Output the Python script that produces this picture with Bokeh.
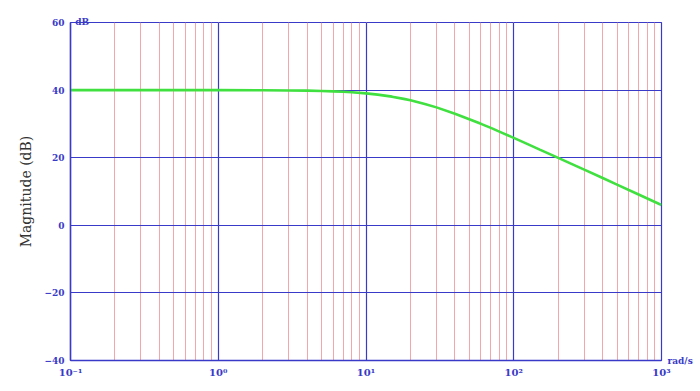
from bokeh.plotting import figure
from bokeh.models import Range1d, FixedTicker, LogTicker, LinearAxis, LogAxis
from bokeh.embed import file_html
from bokeh.resources import INLINE

# Data (rad/s, dB)
freq = [0.1, 0.2, 0.5, 1, 2, 3, 4, 5, 6, 7, 8, 10, 12, 15, 18, 20, 25, 30, 40, 50, 60, 70, 85,
        100, 120, 150, 200, 250, 300, 400, 500, 700, 1000]
mag_db = [40.0, 40.0, 40.0, 40.0, 39.96, 39.9, 39.83, 39.74, 39.63, 39.51, 39.37, 39.03, 38.66,
          38.06, 37.41, 36.99, 35.92, 34.89, 33.01, 31.40, 30.02, 28.81, 27.20, 25.85, 24.32,
          22.40, 19.96, 18.04, 16.46, 13.98, 12.04, 9.12, 6.02]

y_ticks = [-40, -20, 0, 20, 40, 60]
y_tick_labels = ["\u221240", "\u221220", "0", "20", "40", "60"]
x_ticks = [0.1, 1, 10, 100, 1000]
x_tick_labels = ["10\u207b\u00b9", "10\u2070", "10\u00b9", "10\u00b2", "10\u00b3"]
y_unit = "dB"
x_unit = "rad/s"

BLUE = "#3a3ac8"
PINK = "#f2a8a8"
GREEN = "#3fe03f"
SERIF = "DejaVu Serif"

p = figure(width=700, height=391, x_axis_type="log", output_backend="svg",
           toolbar_location=None, x_range=Range1d(0.1, 1000), y_range=Range1d(-40, 60),
           min_border_left=70, min_border_right=39, min_border_top=22, min_border_bottom=31)

p.outline_line_color = BLUE
p.outline_line_width = 1.2
p.background_fill_color = "white"
p.border_fill_color = "white"

p.xaxis.ticker = LogTicker(desired_num_ticks=5, num_minor_ticks=10)
p.xaxis.major_label_overrides = {t: l for t, l in zip(x_ticks, x_tick_labels)}
p.yaxis.ticker = FixedTicker(ticks=y_ticks)
p.yaxis.major_label_overrides = {t: l for t, l in zip(y_ticks, y_tick_labels)}

for ax in (p.xaxis, p.yaxis):
    ax.axis_line_color = BLUE
    ax.axis_line_width = 1.5
    ax.major_tick_line_color = None
    ax.minor_tick_line_color = None
    ax.major_tick_out = 0
    ax.major_tick_in = 0
    ax.minor_tick_out = 0
    ax.minor_tick_in = 0
    ax.major_label_text_color = BLUE
    ax.major_label_text_font = SERIF
    ax.major_label_text_font_style = "bold"
    ax.major_label_text_font_size = "9px"

p.xaxis.major_label_text_font_size = "10px"
p.xaxis.major_label_standoff = 6
p.yaxis.major_label_standoff = 6

p.yaxis.axis_label = "Magnitude (dB)"
p.yaxis.axis_label_text_font = SERIF
p.yaxis.axis_label_text_font_style = "normal"
p.yaxis.axis_label_text_font_size = "14px"
p.yaxis.axis_label_text_color = "#333333"
p.yaxis.axis_label_standoff = 7

p.xgrid.grid_line_color = BLUE
p.xgrid.grid_line_width = 1.2
p.xgrid.minor_grid_line_color = PINK
p.xgrid.minor_grid_line_width = 1
p.ygrid.grid_line_color = BLUE
p.ygrid.grid_line_width = 1.2

p.line(freq, mag_db, line_color=GREEN, line_width=2.6)

common = dict(axis_line_color=None, major_tick_line_color=None, minor_tick_line_color=None,
              major_tick_out=0, major_tick_in=0, minor_tick_out=0, minor_tick_in=0,
              major_label_text_color=BLUE, major_label_text_font=SERIF,
              major_label_text_font_style="bold", major_label_text_font_size="9px")

# unit label "dB" straddling the top-left corner of the frame
top_axis = LogAxis(ticker=FixedTicker(ticks=[0.12]), major_label_overrides={0.12: y_unit},
                   major_label_standoff=-4, **common)
p.add_layout(top_axis, "above")

# unit label at the right end of the frequency axis
unit_axis = LinearAxis(ticker=FixedTicker(ticks=[-40]), major_label_overrides={-40: x_unit},
                       major_label_standoff=6, **common)
p.add_layout(unit_axis, "right")

open("out.html", "w").write(file_html(p, INLINE))
